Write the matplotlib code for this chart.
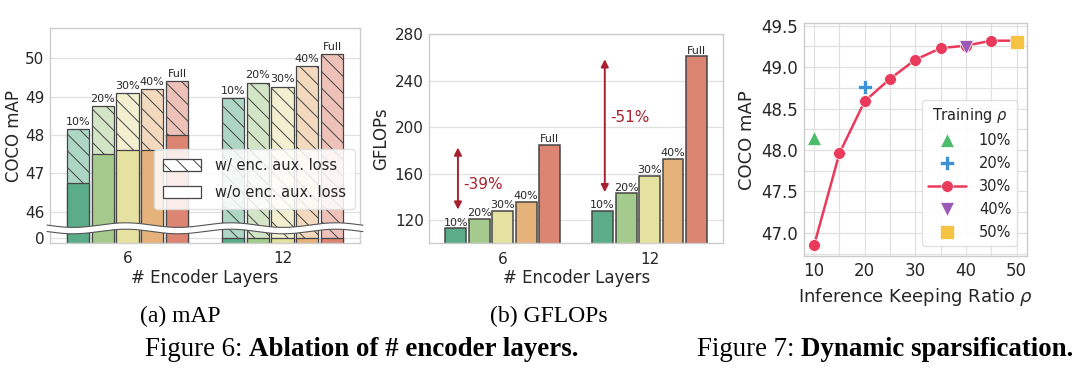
import numpy as np
import matplotlib.pyplot as plt
import seaborn as sns
from matplotlib.patches import Patch, Polygon
from matplotlib.lines import Line2D
from matplotlib.ticker import MultipleLocator, FormatStrFormatter

# %% data
layers = ['6', '12']
ratios = ['10%', '20%', '30%', '40%', 'Full']
map_with_aux = [[48.15, 48.75, 49.09, 49.20, 49.41],
                [48.95, 49.36, 49.26, 49.80, 50.10]]
map_without_aux = [[46.74, 47.49, 47.60, 47.60, 47.99],
                   [0.0, 0.0, 0.0, 0.0, 0.0]]
gflops = [[113, 121, 128, 136, 185],
          [128, 143, 158, 173, 261]]

keep_ratio = [10, 15, 20, 25, 30, 35, 40, 45, 50]
map_train30 = [46.85, 47.96, 48.59, 48.86, 49.09, 49.23, 49.26, 49.32, 49.32]
train_labels = ['10%', '20%', '30%', '40%', '50%']
train_x = [10, 20, 40, 50]
train_map = [48.15, 48.76, 49.24, 49.31]

# %% style
sns.set_style('whitegrid')
plt.rcParams['font.family'] = ['DejaVu Sans']
plt.rcParams['hatch.linewidth'] = 0.7
plt.rcParams['text.color'] = '#262626'
plt.rcParams['axes.labelcolor'] = '#262626'

colors = ['#5bad89', '#a4cb8d', '#e5e1a0', '#e6b27c', '#dc8572']
light = [tuple(0.5 * np.array(plt.matplotlib.colors.to_rgb(c)) + 0.5) for c in colors]
edge = '#454545'
grid_c = '#e0e0e0'
spine_c = '#cccccc'
red = '#a8202f'

W, H = 1080, 382
fig = plt.figure(figsize=(W / 100, H / 100), dpi=100)


def box(l, t, r, b):
    return [l / W, 1 - b / H, (r - l) / W, (b - t) / H]


def style(ax, fs):
    ax.tick_params(length=0, labelsize=fs, colors='#262626', pad=4)
    ax.grid(True, axis='y', color=grid_c, lw=0.9)
    ax.grid(False, axis='x')
    for s in ax.spines.values():
        s.set_color(spine_c)
        s.set_linewidth(1.0)
    ax.set_axisbelow(True)


ax_a = fig.add_axes(box(50, 28.3, 360, 228.5))
ax_a0 = fig.add_axes(box(50, 228.5, 360, 243))
ax_b = fig.add_axes(box(429.3, 34.3, 723, 243.3))
ax_c = fig.add_axes(box(804, 23.3, 1026.7, 256))

offsets = (np.arange(len(ratios)) - 2) * 0.16
bw = 0.142

# %% (a) mAP with broken axis
for gi in range(len(layers)):
    for ri in range(len(ratios)):
        x = gi + offsets[ri]
        for ax, base in [(ax_a, 0), (ax_a0, -1)]:
            ax.bar(x, map_with_aux[gi][ri] - base, bottom=base, width=bw, color=light[ri],
                   edgecolor=edge, hatch='\\\\', lw=0.9)
            if map_without_aux[gi][ri] > base:
                ax.bar(x, map_without_aux[gi][ri] - base, bottom=base, width=bw, color=colors[ri],
                       edgecolor=edge, lw=0.9)
        ax_a.text(x, map_with_aux[gi][ri] + 0.06, ratios[ri], ha='center', va='bottom', fontsize=8)

for ax in (ax_a, ax_a0):
    style(ax, 11)
    ax.set_xlim(-0.5, 1.5)
ax_a.set_ylim(45.56, 50.78)
ax_a.set_yticks([46, 47, 48, 49, 50])
ax_a.set_xticks([])
ax_a.spines['bottom'].set_visible(False)
ax_a0.set_ylim(-0.5, 0.95)
ax_a0.set_yticks([0])
ax_a0.set_xticks([0, 1])
ax_a0.set_xticklabels(layers)
ax_a0.spines['top'].set_visible(False)
ax_a0.tick_params(axis='x', pad=6)
ax_a0.set_xlabel('# Encoder Layers', fontsize=12, labelpad=2)
ax_a.set_ylabel('COCO mAP', fontsize=12)
ax_a.yaxis.set_label_coords(-0.088, 0.46)

leg_handles = [Patch(facecolor='white', edgecolor=edge, hatch='\\\\', lw=0.9, label='w/ enc. aux. loss'),
               Patch(facecolor='white', edgecolor=edge, lw=0.9, label='w/o enc. aux. loss')]
leg = ax_a.legend(handles=leg_handles, loc='lower right', bbox_to_anchor=(1.008, 0.06), fontsize=10.5,
                  handlelength=2.6, handleheight=0.9, framealpha=0.85, edgecolor='#dddddd',
                  borderpad=0.6, labelspacing=0.85, handletextpad=1.0)
leg.set_zorder(10)

# wavy break band
xs = np.linspace(47, 363, 400)
yc = 228.3 + 2.3 * np.sin(2 * np.pi * (xs - 47) / 105)
top_edge = yc - 3.2
bot_edge = yc + 3.2
poly = np.column_stack([np.r_[xs, xs[::-1]], np.r_[top_edge, bot_edge[::-1]]])
poly[:, 0] /= W
poly[:, 1] = 1 - poly[:, 1] / H
fig.add_artist(Polygon(poly, closed=True, facecolor='white', edgecolor='none', zorder=5,
                       transform=fig.transFigure))
for ye in (top_edge, bot_edge):
    fig.add_artist(Line2D(xs / W, 1 - ye / H, color='#555555', lw=0.8, zorder=6,
                          transform=fig.transFigure))

# %% (b) GFLOPs
for gi in range(len(layers)):
    for ri in range(len(ratios)):
        x = gi + offsets[ri]
        ax_b.bar(x, gflops[gi][ri], width=bw, color=colors[ri], edgecolor=edge, lw=1.1)
        ax_b.text(x, gflops[gi][ri] + 0.5, ratios[ri], ha='center', va='bottom', fontsize=8)
    xa = gi + offsets[0] + 0.015
    lo, hi = gflops[gi][0] + 16, gflops[gi][-1] - 2.5
    ax_b.annotate('', xy=(xa, hi), xytext=(xa, lo),
                  arrowprops=dict(arrowstyle='<|-|>', color=red, lw=1.4, mutation_scale=11,
                                  shrinkA=0, shrinkB=0))
    pct = round((1 - gflops[gi][0] / gflops[gi][-1]) * 100)
    ax_b.text(xa + 0.035, (lo + hi) / 2 + (-5 if gi == 0 else 7), f'-{pct}%', color=red,
              fontsize=11, ha='left', va='center')

style(ax_b, 11)
ax_b.set_xlim(-0.5, 1.5)
ax_b.set_ylim(100, 280)
ax_b.set_yticks([120, 160, 200, 240, 280])
ax_b.set_xticks([0, 1])
ax_b.set_xticklabels(layers)
ax_b.tick_params(axis='x', pad=6)
ax_b.set_xlabel('# Encoder Layers', fontsize=12, labelpad=2)
ax_b.set_ylabel('GFLOPs', fontsize=12, labelpad=3)

# %% (c) dynamic sparsification
c10, c20, c30, c40, c50 = '#4dbb6c', '#3b93d6', '#ea3a5c', '#9b59b6', '#f5c242'
ax_c.plot(keep_ratio, map_train30, '-o', color=c30, lw=1.8, ms=8.5, mec='white', mew=0.5, zorder=3)
marks = ['^', 'P', 'v', 's']
mcols = [c10, c20, c40, c50]
for x, y, m, c in zip(train_x, train_map, marks, mcols):
    ax_c.plot(x, y, m, color=c, ms=9.5, mec='white', mew=0.5, ls='none', zorder=4)

handles = [Line2D([], [], marker='^', color=c10, ms=9.5, mec='white', mew=0.5, ls='none'),
           Line2D([], [], marker='P', color=c20, ms=9.5, mec='white', mew=0.5, ls='none'),
           Line2D([], [], marker='o', color=c30, ms=8.5, mec='white', mew=0.5, lw=1.8),
           Line2D([], [], marker='v', color=c40, ms=9.5, mec='white', mew=0.5, ls='none'),
           Line2D([], [], marker='s', color=c50, ms=9.5, mec='white', mew=0.5, ls='none')]
ax_c.legend(handles, train_labels, title=r'Training $\rho$', loc='lower right', bbox_to_anchor=(0.99, 0.012),
            fontsize=10.5, title_fontsize=10.5, handlelength=2.6, framealpha=0.9, edgecolor='#dddddd',
            labelspacing=0.55, handletextpad=0.9, alignment='center')

ax_c.tick_params(length=0, which='both', labelsize=12, colors='#262626', pad=4)
ax_c.set_xlim(8, 52)
ax_c.set_ylim(46.72, 49.53)
ax_c.xaxis.set_major_locator(MultipleLocator(10))
ax_c.xaxis.set_minor_locator(MultipleLocator(5))
ax_c.yaxis.set_major_locator(MultipleLocator(0.5))
ax_c.yaxis.set_minor_locator(MultipleLocator(0.25))
ax_c.yaxis.set_major_formatter(FormatStrFormatter('%.1f'))
ax_c.grid(True, which='both', color=grid_c, lw=0.9)
for s in ax_c.spines.values():
    s.set_color(spine_c)
    s.set_linewidth(1.0)
ax_c.set_axisbelow(True)
ax_c.set_xlabel(r'Inference Keeping Ratio $\rho$', fontsize=13, labelpad=5)
ax_c.set_ylabel('COCO mAP', fontsize=13, labelpad=4)

# %% captions
serif = ['Liberation Serif', 'DejaVu Serif']
fig.text(180 / W, 1 - 316 / H, '(a) mAP', family=serif, fontsize=17, ha='center', va='center', color='black')
fig.text(549 / W, 1 - 316 / H, '(b) GFLOPs', family=serif, fontsize=17, ha='center', va='center', color='black')

fig.canvas.draw()
renderer = fig.canvas.get_renderer()
for x0, head, tail in [(145, 'Figure 6: ', 'Ablation of # encoder layers.'),
                       (697, 'Figure 7: ', 'Dynamic sparsification.')]:
    t1 = fig.text(x0 / W, 1 - 350 / H, head, family=serif, fontsize=19.4, ha='left', va='center', color='black')
    bb = t1.get_window_extent(renderer)
    fig.text(bb.x1 / W, 1 - 350 / H, tail, family=serif, fontsize=19.4, weight='bold', ha='left', va='center',
             color='black')

fig.savefig('out.png', dpi=100)
